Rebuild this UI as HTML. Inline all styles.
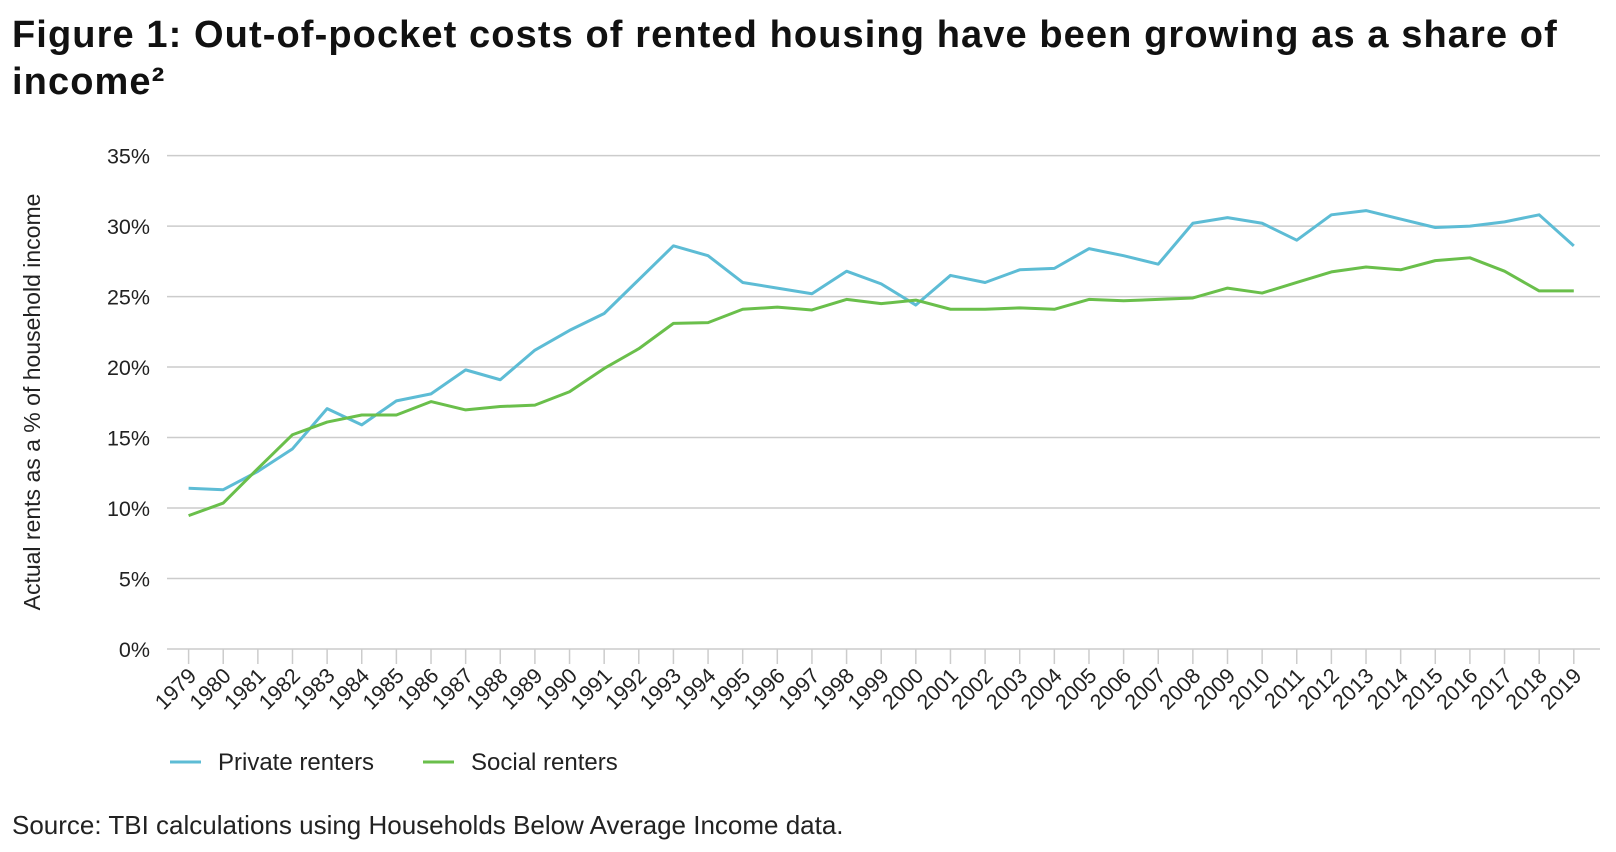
<!DOCTYPE html>
<html><head><meta charset="utf-8">
<style>
body{margin:0;background:#fff;width:1616px;height:852px;overflow:hidden;font-family:"Liberation Sans",sans-serif;}
#title{position:absolute;left:12px;top:12px;width:1600px;font-size:38px;letter-spacing:1.1px;font-weight:bold;line-height:47px;color:#111;margin:0;}
#source{position:absolute;left:12px;top:810px;font-size:26px;color:#222;}
svg{position:absolute;left:0;top:0;}
</style></head><body>
<h1 id="title">Figure 1: Out-of-pocket costs of rented housing have been growing as a share of income²</h1>
<svg id="chart" width="1616" height="852"></svg>
<div id="source">Source: TBI calculations using Households Below Average Income data.</div>
<script>
const years = [1979,1980,1981,1982,1983,1984,1985,1986,1987,1988,1989,1990,1991,1992,1993,1994,1995,1996,1997,1998,1999,2000,2001,2002,2003,2004,2005,2006,2007,2008,2009,2010,2011,2012,2013,2014,2015,2016,2017,2018,2019];
const privateRenters = [11.4,11.3,12.6,14.2,17.05,15.9,17.6,18.1,19.8,19.1,21.2,22.6,23.8,26.2,28.6,27.9,26.0,25.6,25.2,26.8,25.9,24.4,26.5,26.0,26.9,27.0,28.4,27.9,27.3,30.2,30.6,30.2,29.0,30.8,31.1,30.5,29.9,30.0,30.3,30.8,28.6];
const socialRenters = [9.46,10.35,12.8,15.2,16.1,16.6,16.6,17.55,16.96,17.2,17.3,18.25,19.9,21.3,23.1,23.15,24.1,24.25,24.05,24.8,24.5,24.75,24.1,24.1,24.2,24.1,24.8,24.7,24.8,24.9,25.6,25.25,26.0,26.75,27.1,26.9,27.55,27.75,26.8,25.4,25.4];
const yTicks = [0,5,10,15,20,25,30,35];

const NS='http://www.w3.org/2000/svg';
const svg=document.getElementById('chart');
const X0=188.6, XSTEP=34.63, Y0=649, YPER=14.097, GL=167, GR=1600;
function xs(i){return X0+XSTEP*i;}
function ys(v){return Y0-v*YPER;}
function mk(tag,attrs){const e=document.createElementNS(NS,tag);for(const k in attrs)e.setAttribute(k,attrs[k]);svg.appendChild(e);return e;}

yTicks.forEach(t=>{
  const l=mk('line',{x1:GL,x2:GR,y1:ys(t),y2:ys(t),stroke:'#cccccc','stroke-width':1.5});
  
  
  const tx=mk('text',{x:150,y:ys(t)+8,'text-anchor':'end','font-size':21.5,fill:'#222'});
  tx.textContent=t+'%';
  
  
});
years.forEach((yr,i)=>{
  const x=xs(i);
  const tk=mk('line',{x1:x,x2:x,y1:Y0,y2:Y0+15,stroke:'#cccccc','stroke-width':1.5});
  
  
  const tx=mk('text',{x:x+9,y:Y0+28,'text-anchor':'end','font-size':21.5,fill:'#222',transform:'rotate(-45 '+(x+9)+' '+(Y0+28)+')'});
  tx.textContent=yr;
  
  
});
const yt=mk('text',{x:0,y:0,'text-anchor':'middle','font-size':23,fill:'#222',transform:'translate(40 402) rotate(-90)'});
yt.textContent='Actual rents as a % of household income';



function series(vals,color,name){
  const p=mk('polyline',{points:vals.map((v,i)=>xs(i)+','+ys(v)).join(' '),fill:'none',stroke:color,'stroke-width':3,'stroke-linejoin':'round'});
  
  
}
series(privateRenters,'#5dbcd5','private-renters-line');
series(socialRenters,'#6abf4b','social-renters-line');

function legend(x,color,label,name){
  const l=mk('line',{x1:x,x2:x+31,y1:762,y2:762,stroke:color,'stroke-width':3});
  
  
  const t=mk('text',{x:x+48,y:770,'font-size':24,fill:'#222'});
  t.textContent=label;
  
  
}
legend(170,'#5dbcd5','Private renters','legend-private-renters');
legend(423,'#6abf4b','Social renters','legend-social-renters');
</script>
</body></html>
